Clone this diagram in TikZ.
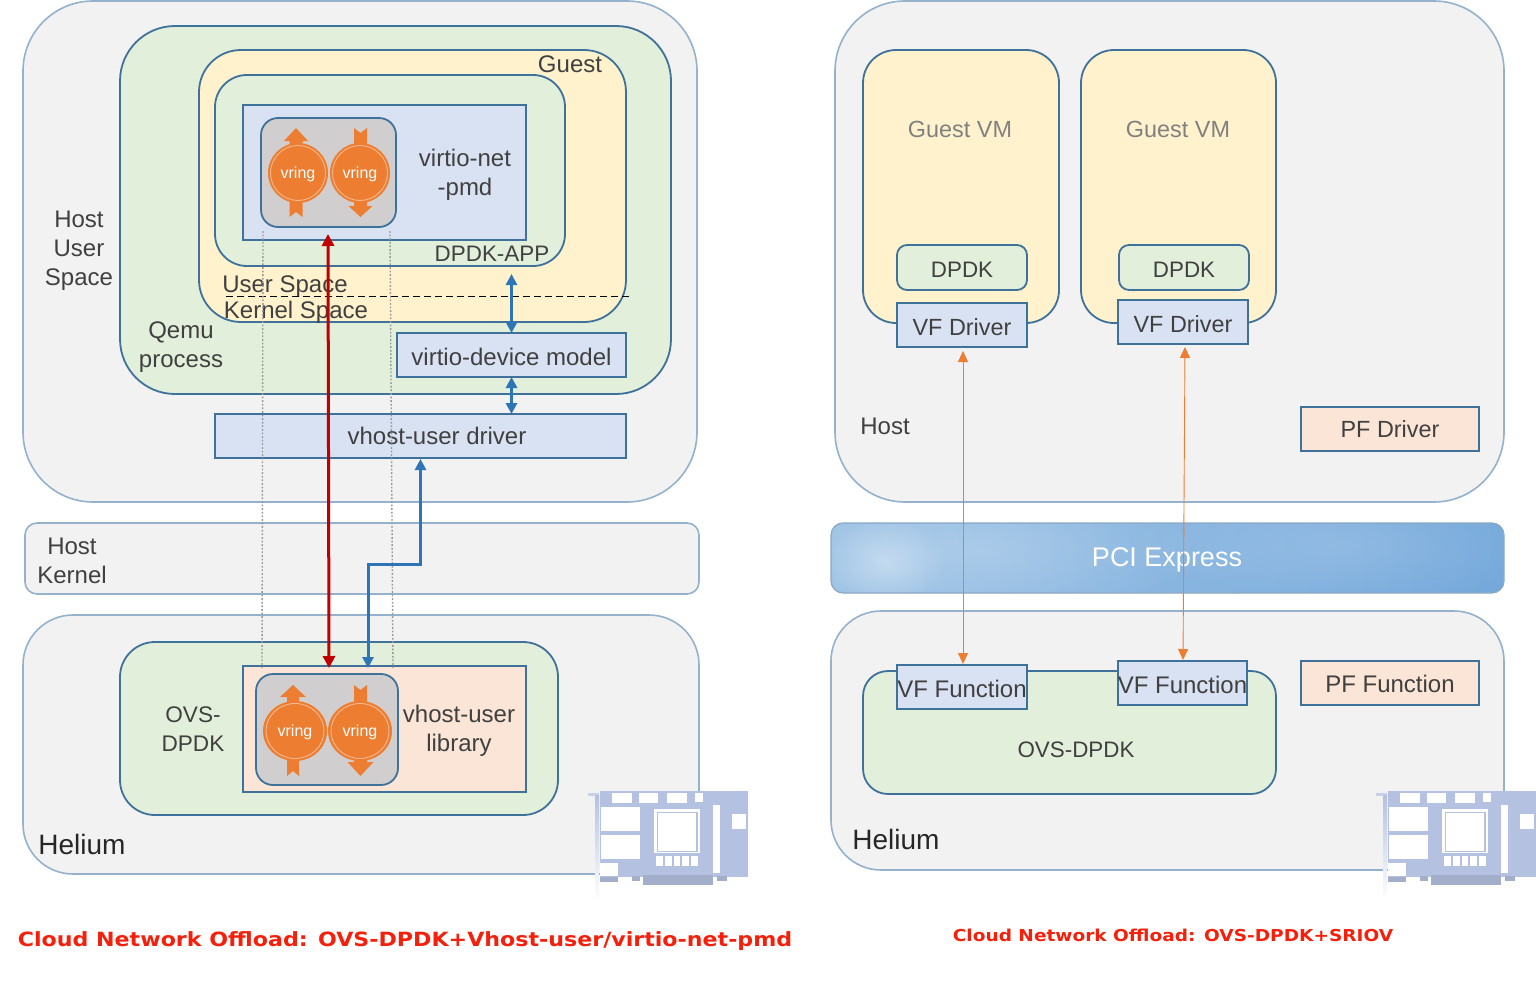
\documentclass[tikz,border=0pt]{standalone}
\usepackage{fontspec}
\setmainfont{Liberation Sans}
\newfontfamily\titlefont[FakeStretch=1.13]{DejaVu Sans}
\usetikzlibrary{arrows.meta,shapes.geometric,fadings}
\tikzfading[name=softblob,inner color=transparent!0,outer color=transparent!100]
\definecolor{edgeblue}{HTML}{3F729B}
\definecolor{outeredge}{HTML}{94B2CC}
\definecolor{panel}{HTML}{F2F2F2}
\definecolor{greenf}{HTML}{E2EFDA}
\definecolor{yellowf}{HTML}{FFF2CC}
\definecolor{bluef}{HTML}{D9E2F3}
\definecolor{peachf}{HTML}{FBE5D6}
\definecolor{grayf}{HTML}{D0CECE}
\definecolor{orangef}{HTML}{ED7D31}
\definecolor{txt}{HTML}{404040}
\definecolor{linkblue}{HTML}{2E75B6}
\definecolor{linkred}{HTML}{C00000}
\definecolor{cardc}{HTML}{B4C1E0}
\definecolor{titlered}{HTML}{F5200C}
\definecolor{pcil}{HTML}{9CC2E5}
\definecolor{pcim}{HTML}{7FB0DF}
\definecolor{pcir}{HTML}{74A8DB}
\newcommand{\capsize}{\fontsize{22.4}{27}\selectfont}
\newcommand{\midsize}{\fontsize{23.4}{28}\selectfont}
\tikzset{
  x=1pt,y=-1pt,
  every node/.style={inner sep=0pt,outer sep=0pt,text=txt,font=\fontsize{24}{29}\selectfont,align=center},
  panelbox/.style={draw=outeredge,line width=1.6pt,fill=panel},
  greenbox/.style={draw=edgeblue,line width=1.8pt,fill=greenf},
  yellowbox/.style={draw=edgeblue,line width=1.8pt,fill=yellowf},
  bluebox/.style={draw=edgeblue,line width=1.8pt,fill=bluef},
  peachbox/.style={draw=edgeblue,line width=1.8pt,fill=peachf},
  graybox/.style={draw=edgeblue,line width=1.8pt,fill=grayf},
  pcibox/.style={draw=edgeblue!60,line width=1.2pt,left color=pcil,middle color=pcim,right color=pcir,rounded corners=12pt},
  ringnode/.style={ellipse,fill=orangef,text=white,font=\fontsize{16}{18}\selectfont,text height=11pt,text depth=0pt},
  ringline/.style={draw=white,draw opacity=.45,line width=.9pt},
  fatarrow/.style={fill=orangef,draw=none},
  redlink/.style={draw=linkred,line width=3pt,{Triangle[length=12pt,width=12pt]}-{Triangle[length=12pt,width=12pt]}},
  bluelink/.style={draw=linkblue,line width=3pt,{Triangle[length=11pt,width=11pt]}-{Triangle[length=11pt,width=11pt]}},
  orangelink/.style={draw=orangef,line width=.9pt,{Triangle[length=11pt,width=10pt]}-{Triangle[length=11pt,width=10pt]}},
  dotlink/.style={draw=gray!80,line width=1.4pt,dash pattern=on 1.8pt off 1.8pt},
  guesttxt/.style={text=gray},
  heliumtxt/.style={font=\fontsize{28}{33}\selectfont,text=black!85},
  cardwhite/.style={fill=white,draw=none},
}
\newcommand{\bx}[7]{\node[#1,minimum width={(#5-#3)*1pt},minimum height={(#6-#4)*1pt}] (#2) at ({(#3+#5)/2},{(#4+#6)/2}) {};
 \node[yshift=-2pt] (#2t) at (#2.center) {#7};}
\newcommand{\netcard}[1]{%
 \begin{scope}[shift={(#1,0)}]
  \fill[cardc!75] (588,792.5) rectangle (599,795.5);
  \shade[top color=cardc,bottom color=white] (595,795) rectangle (599,900);
  \fill[cardc] (600,791) rectangle (748,877);
  \fill[cardc!90!black] (643,875) rectangle (713,885);
  \fill[cardc!90!black] (600,877) rectangle (618,882);
  \fill[cardc!90!black] (632,876) rectangle (640,881);
  \fill[cardc!90!black] (717,876) rectangle (727,881);
  \fill[cardwhite] (612,793) rectangle (632,803);
  \fill[cardwhite] (639,793) rectangle (658,803);
  \fill[cardwhite] (667,793) rectangle (687,803);
  \fill[cardwhite] (695,793) rectangle (703,802);
  \fill[cardwhite] (601,807) rectangle (640,831);
  \fill[cardwhite] (601,835) rectangle (640,859);
  \fill[cardwhite] (600,863) rectangle (618,876);
  \fill[cardwhite] (654,809) rectangle (700,853);
  \draw[cardc,line width=1.6pt,fill=white] (657.5,812.5) rectangle (697,851.5);
  \fill[cardwhite] (656,856) rectangle (663,866);
  \fill[cardwhite] (665,856) rectangle (672,866);
  \fill[cardwhite] (674,856) rectangle (680,866);
  \fill[cardwhite] (682,856) rectangle (689,866);
  \fill[cardwhite] (691,856) rectangle (698,866);
  \fill[cardwhite] (713,805) rectangle (720,873);
  \fill[cardwhite] (732,814) rectangle (746,829);
 \end{scope}}
\begin{document}
\begin{tikzpicture}
\useasboundingbox (0,0) rectangle (1536,990);
\fill[white] (0,0) rectangle (1536,990);
% ---------- left ----------
\bx{panelbox,rounded corners=70pt}{hostuser}{23}{1}{697}{502}{}
\bx{greenbox,rounded corners=55pt}{qemu}{120}{26}{671}{394}{}
\bx{yellowbox,rounded corners=42pt}{guest}{199}{50}{626}{322}{}
\bx{greenbox,rounded corners=32pt}{dpdkapp}{215}{75}{565}{266}{}
\bx{bluebox}{vnet}{243}{105}{526}{240}{}
\bx{graybox,rounded corners=17pt}{vgray}{261}{118}{396}{227}{}
\bx{bluebox}{devmodel}{397}{333}{626}{377}{virtio-device model}
\bx{bluebox}{drv}{215}{414}{626}{458}{}
\bx{panelbox,rounded corners=12pt}{hkernel}{25}{523}{699}{594}{}
\bx{panelbox,rounded corners=50pt}{heliumL}{23}{615}{699}{874}{}
\bx{greenbox,rounded corners=35pt}{ovsL}{120}{642}{558}{815}{}
\bx{peachbox}{vlib}{243}{666}{526}{792}{}
\bx{graybox,rounded corners=17pt}{lgray}{256}{674}{398}{785}{}
% top rings
\fill[fatarrow] (296,128) -- (308,141) -- (302.5,141) -- (302.5,217) -- (296,212) -- (289.5,217) -- (289.5,141) -- (284,141) -- cycle;
\fill[fatarrow] (354,128) -- (360.5,133) -- (367,128) -- (367,206) -- (372.5,206) -- (360.5,217) -- (348.5,206) -- (354,206) -- cycle;
\node[ringnode,minimum width=60pt,minimum height=60pt] (r1) at (298,173) {vring};
\node[ringnode,minimum width=60pt,minimum height=60pt] (r2) at (360,173) {vring};
\draw[ringline] (298,173) circle (27.5pt);
\draw[ringline] (360,173) circle (27.5pt);
% bottom rings
\fill[fatarrow] (293,685) -- (306,697) -- (299,697) -- (299,776) -- (293,771) -- (287,776) -- (287,697) -- (280,697) -- cycle;
\fill[fatarrow] (354,685) -- (360.5,690) -- (367,685) -- (367,762) -- (373.5,762) -- (360.5,776) -- (347.5,762) -- (354,762) -- cycle;
\node[ringnode,minimum width=64pt,minimum height=60pt] (r3) at (295,731) {vring};
\node[ringnode,minimum width=64pt,minimum height=60pt] (r4) at (360,731) {vring};
\draw[ringline] (295,731) ellipse (29pt and 27.5pt);
\draw[ringline] (360,731) ellipse (29pt and 27.5pt);
% labels
\node (tguest) at (570,64) {Guest};
\node (thost) at (79,251) {Host\\User\\Space};
\node (tvnet) at (465,175) {virtio-net\\-pmd};
\node[font=\capsize] (tapp) at (492,254) {DPDK-APP};
\node (tuser) at (285,287) {User Space};
\node (tkern) at (296,312) {Kernel Space};
\node (tqemu) at (181,347) {Qemu\\process};
\node (tdrv) at (437,436) {vhost-user driver};
\node (thk) at (72,561) {Host\\Kernel};
\node[font=\fontsize{22.6}{29}\selectfont] (tovs) at (193,729) {OVS-\\DPDK};
\node (tlib) at (459,731) {vhost-user\\library};
\node[heliumtxt] (thelL) at (82,844) {Helium};
% connectors
\coordinate (dashA) at (226,296.5);
\coordinate (dashB) at (630,296.5);
\draw[black,line width=1.5pt,dash pattern=on 7pt off 4pt] (dashA) -- (dashB);
\coordinate (dotA) at (263,231);
\coordinate (dotB) at (262,668);
\coordinate (dotC) at (390,231);
\coordinate (dotD) at (393,668);
\draw[dotlink] (dotA) -- (dotB);
\draw[dotlink] (dotC) -- (dotD);
\coordinate (redT) at ([xshift=-56.5pt,yshift=6pt]vnet.south);
\coordinate (redB) at ([xshift=-55.5pt,yshift=-2pt]vlib.north);
\draw[redlink] (redT) -- (redB);
\coordinate (blueB) at ([xshift=-16.5pt,yshift=-2pt]vlib.north);
\draw[bluelink] ([yshift=-1pt]drv.south) -- ++(0,105) -| (blueB);
\coordinate (appLow) at (511.5,274);
\draw[bluelink] (appLow) -- (devmodel.north);
\draw[bluelink] (devmodel.south) -- (drv.north -| devmodel.south);
% ---------- right ----------
\bx{panelbox,rounded corners=70pt}{hostR}{835}{1}{1504}{502}{}
\bx{yellowbox,rounded corners=33pt}{vm1}{863}{50}{1059}{323}{}
\bx{yellowbox,rounded corners=33pt}{vm2}{1081}{50}{1276}{323}{}
\node[guesttxt,font=\midsize] (tvm1) at (960,129) {Guest VM};
\node[guesttxt,font=\midsize] (tvm2) at (1178,129) {Guest VM};
\bx{greenbox,rounded corners=10pt}{dp1}{897}{245}{1027}{290}{\capsize DPDK}
\bx{greenbox,rounded corners=10pt}{dp2}{1119}{245}{1249}{290}{\capsize DPDK}
\bx{bluebox}{vfd1}{897}{303}{1027}{347}{\midsize VF Driver}
\bx{bluebox}{vfd2}{1118}{300}{1248}{344}{\midsize VF Driver}
\bx{peachbox}{pfd}{1301}{407}{1479}{451}{}
\node[font=\midsize] (tpfd) at (1390,429) {PF Driver};
\node (thostR) at (885,426) {Host};
\bx{pcibox}{pci}{831}{523}{1504}{593}{}
\begin{scope}
  \clip[rounded corners=12pt] (832,524) rectangle (1503,592);
  \fill[white,opacity=.35,path fading=softblob] (885,562) ellipse (60pt and 45pt);
  \fill[white,opacity=.22,path fading=softblob] (980,550) ellipse (220pt and 70pt);
  \fill[white,opacity=.15,path fading=softblob] (1340,545) ellipse (220pt and 60pt);
\end{scope}
\node[text=white,font=\fontsize{27}{32}\selectfont] (tpci) at (1167,560) {PCI Express};
\bx{panelbox,rounded corners=50pt}{heliumR}{831}{611}{1504}{870}{}
\bx{greenbox,rounded corners=25pt}{ovsR}{863}{671}{1276}{794}{}
\node[font=\capsize] (tovsR) at (1076,750) {OVS-DPDK};
\bx{bluebox}{vff1}{897}{665}{1027}{709}{VF Function}
\bx{bluebox}{vff2}{1118}{661}{1247}{705}{VF Function}
\bx{peachbox}{pff}{1301}{661}{1479}{705}{}
\node (tpff) at (1390,684) {PF Function};
\node[heliumtxt] (thelR) at (896,839) {Helium};
\draw[orangelink] ([xshift=1pt,yshift=-4pt]vfd1.south) -- ([xshift=1pt,yshift=1pt]vff1.north);
\draw[orangelink] ([xshift=2pt,yshift=-3pt]vfd2.south) -- ([xshift=0.5pt,yshift=1pt]vff2.north);
% cards
\netcard{0}
\netcard{788}
% titles
\node[text=titlered,font=\titlefont\bfseries\fontsize{19.6}{24}\selectfont] (title1) at (405,941) {Cloud Network Offload: OVS-DPDK+Vhost-user/virtio-net-pmd};
\node[text=titlered,font=\titlefont\bfseries\fontsize{16.4}{20}\selectfont] (title2) at (1173,935.5) {Cloud Network Offload: OVS-DPDK+SRIOV};
\end{tikzpicture}
\end{document}
